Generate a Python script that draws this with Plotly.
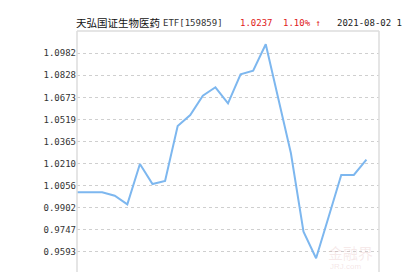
import plotly.graph_objects as go

# data
idx = list(range(24))
nav = [1.0009, 1.0009, 1.0009, 0.9985, 0.9925, 1.0207, 1.0067, 1.0088,
       1.0473, 1.0550, 1.0685, 1.0744, 1.0632, 1.0835, 1.0860, 1.1045,
       1.0662, 1.0282, 0.9733, 0.9547, 0.9838, 1.0130, 1.0130, 1.0237]
tick_vals = [0.9593, 0.9747, 0.9902, 1.0056, 1.0210, 1.0365, 1.0519, 1.0673, 1.0828, 1.0982]
tick_text = ["0.9593", "0.9747", "0.9902", "1.0056", "1.0210", "1.0365", "1.0519", "1.0673", "1.0828", "1.0982"]

title_cn = "天弘国证生物医药"
title_code = "ETF[159859]"
last_price = "1.0237"
change_txt = "1.10% ↑"
date_txt = "2021-08-02 1"

W, H = 406, 272
L, R, T, B = 77, 27, 31, 0
PW, PH = W - L - R, H - T - B

def px(x):
    return (x - L) / PW

def py(y):
    return 1 - (y - T) / PH

fig = go.Figure()
fig.add_trace(go.Scatter(x=idx, y=nav, mode="lines",
                         line=dict(color="#7db7ef", width=2),
                         hoverinfo="skip", showlegend=False))

mono = "DejaVu Sans Mono"
ann = []
ann.append(dict(text=title_cn, x=px(74), y=py(23), xanchor="left", yanchor="middle",
                font=dict(family="Noto Sans CJK SC", size=10.5, color="#111111")))
ann.append(dict(text=title_code, x=px(161), y=py(23), xanchor="left", yanchor="middle",
                font=dict(family=mono, size=9, color="#333333")))
ann.append(dict(text=last_price, x=px(238), y=py(23), xanchor="left", yanchor="middle",
                font=dict(family=mono, size=9, color="#e02020")))
ann.append(dict(text=change_txt, x=px(281), y=py(23), xanchor="left", yanchor="middle",
                font=dict(family=mono, size=9, color="#e02020")))
ann.append(dict(text=date_txt, x=px(335), y=py(23), xanchor="left", yanchor="middle",
                font=dict(family=mono, size=9, color="#222222")))
# faint watermark
ann.append(dict(text="金融界", x=px(350), y=py(252), xanchor="center", yanchor="middle",
                font=dict(family="Noto Sans CJK SC", size=15, color="rgba(220,170,170,0.25)")))
ann.append(dict(text="JRJ.com", x=px(345), y=py(266), xanchor="center", yanchor="middle",
                font=dict(family="Liberation Sans", size=8, color="rgba(220,170,170,0.3)")))
for a in ann:
    a.update(xref="paper", yref="paper", showarrow=False)

shapes = []
for x0, y0, x1, y1 in [(0, 0, 0, 1), (0, 1, 1, 1), (1, 0, 1, 1)]:
    shapes.append(dict(type="line", xref="paper", yref="paper", x0=x0, y0=y0, x1=x1, y1=y1,
                       line=dict(color="#dcdcdc", width=1.5)))

fig.update_layout(
    width=W, height=H,
    margin=dict(l=L, r=R, t=T, b=B),
    paper_bgcolor="white", plot_bgcolor="white",
    annotations=ann, shapes=shapes,
    xaxis=dict(range=[0, 24], showgrid=False, zeroline=False, showticklabels=False,
               showline=False, ticks=""),
    yaxis=dict(range=[0.9451, 1.1138], tickvals=tick_vals, ticktext=tick_text,
               showgrid=True, gridcolor="#cfcfcf", griddash="dot", gridwidth=1,
               zeroline=False, showline=False, ticks="",
               tickfont=dict(family=mono, size=9, color="#333333")),
)

fig.write_html("out.html")
